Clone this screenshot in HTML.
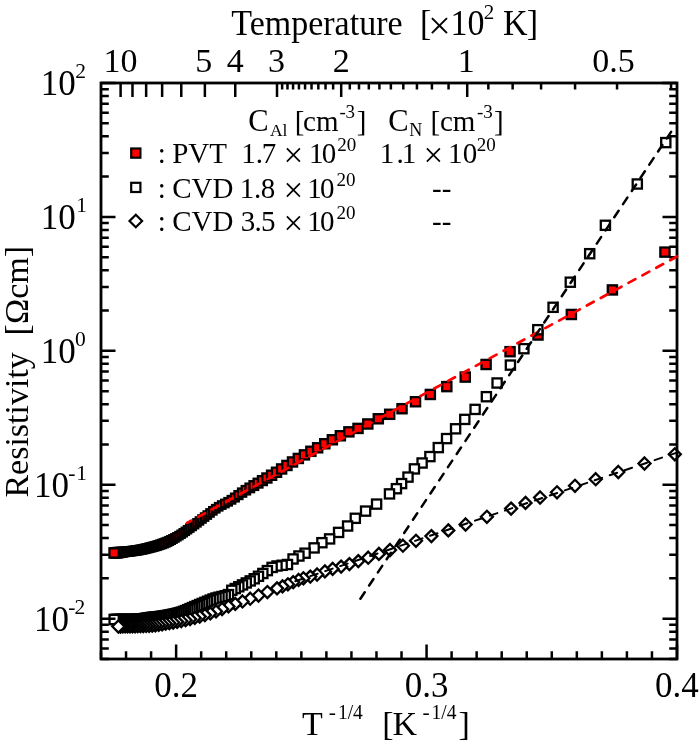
<!DOCTYPE html>
<html><head><meta charset="utf-8"><title>Resistivity vs T^-1/4</title>
<style>html,body{margin:0;padding:0;background:#fff;width:700px;height:744px;overflow:hidden}svg{display:block;filter:blur(0.6px)}</style>
</head><body>
<svg width="700" height="744" viewBox="0 0 700 744">
<rect width="700" height="744" fill="#fff"/>
<g fill="#f00" stroke="#000" stroke-width="2.3"><rect x="110.5" y="548.26" width="9.2" height="9.2"/><rect x="111.55" y="548.17" width="9.2" height="9.2"/><rect x="112.62" y="548.07" width="9.2" height="9.2"/><rect x="113.72" y="547.99" width="9.16" height="9.16"/><rect x="114.89" y="547.97" width="9" height="9"/><rect x="116.07" y="547.94" width="8.84" height="8.84"/><rect x="117.27" y="547.9" width="8.68" height="8.68"/><rect x="118.48" y="547.86" width="8.52" height="8.52"/><rect x="119.71" y="547.82" width="8.36" height="8.36"/><rect x="120.96" y="547.77" width="8.2" height="8.2"/><rect x="122.14" y="547.64" width="8.19" height="8.19"/><rect x="123.33" y="547.51" width="8.19" height="8.19"/><rect x="124.54" y="547.37" width="8.18" height="8.18"/><rect x="125.77" y="547.23" width="8.18" height="8.18"/><rect x="127.02" y="547.08" width="8.17" height="8.17"/><rect x="128.28" y="546.93" width="8.16" height="8.16"/><rect x="129.56" y="546.76" width="8.16" height="8.16"/><rect x="130.86" y="546.59" width="8.15" height="8.15"/><rect x="132.18" y="546.4" width="8.14" height="8.14"/><rect x="133.51" y="546.2" width="8.14" height="8.14"/><rect x="134.87" y="545.98" width="8.13" height="8.13"/><rect x="136.24" y="545.74" width="8.12" height="8.12"/><rect x="137.64" y="545.47" width="8.12" height="8.12"/><rect x="139.06" y="545.18" width="8.11" height="8.11"/><rect x="140.5" y="544.86" width="8.1" height="8.1"/><rect x="141.96" y="544.52" width="8.09" height="8.09"/><rect x="143.44" y="544.16" width="8.09" height="8.09"/><rect x="144.95" y="543.79" width="8.08" height="8.08"/><rect x="146.48" y="543.4" width="8.07" height="8.07"/><rect x="148.04" y="542.99" width="8.06" height="8.06"/><rect x="149.63" y="542.56" width="8.06" height="8.06"/><rect x="151.24" y="542.11" width="8.05" height="8.05"/><rect x="152.87" y="541.63" width="8.04" height="8.04"/><rect x="154.54" y="541.11" width="8.03" height="8.03"/><rect x="156.23" y="540.56" width="8.02" height="8.02"/><rect x="157.96" y="539.96" width="8.02" height="8.02"/><rect x="159.71" y="539.32" width="8.01" height="8.01"/><rect x="161.52" y="538.63" width="7.97" height="7.97"/><rect x="163.39" y="537.9" width="7.86" height="7.86"/><rect x="165.3" y="537.09" width="7.74" height="7.74"/><rect x="167.24" y="536.2" width="7.63" height="7.63"/><rect x="169.22" y="535.25" width="7.51" height="7.51"/><rect x="171.24" y="534.23" width="7.39" height="7.39"/><rect x="173.3" y="533.16" width="7.27" height="7.27"/><rect x="175.37" y="531.98" width="7.21" height="7.21"/><rect x="177.45" y="530.64" width="7.22" height="7.22"/><rect x="179.57" y="529.2" width="7.23" height="7.23"/><rect x="181.73" y="527.68" width="7.24" height="7.24"/><rect x="183.95" y="526.1" width="7.26" height="7.26"/><rect x="186.21" y="524.48" width="7.27" height="7.27"/><rect x="188.52" y="522.8" width="7.28" height="7.28"/><rect x="190.89" y="521.03" width="7.3" height="7.3"/><rect x="193.31" y="519.19" width="7.31" height="7.31"/><rect x="195.78" y="517.29" width="7.32" height="7.32"/><rect x="198.32" y="515.35" width="7.34" height="7.34"/><rect x="200.92" y="513.4" width="7.35" height="7.35"/><rect x="203.59" y="511.37" width="7.37" height="7.37"/><rect x="206.33" y="509.26" width="7.38" height="7.38"/><rect x="209.14" y="507.12" width="7.4" height="7.4"/><rect x="212.02" y="505.03" width="7.42" height="7.42"/><rect x="214.98" y="503.07" width="7.43" height="7.43"/><rect x="218.03" y="501.33" width="7.45" height="7.45"/><rect x="221.16" y="499.74" width="7.47" height="7.47"/><rect x="224.39" y="498.05" width="7.49" height="7.49"/><rect x="227.67" y="496" width="7.58" height="7.58"/><rect x="231.02" y="493.64" width="7.77" height="7.77"/><rect x="234.46" y="491.1" width="7.96" height="7.96"/><rect x="238.02" y="488.52" width="8.17" height="8.17"/><rect x="241.7" y="486.04" width="8.37" height="8.37"/><rect x="245.5" y="483.6" width="8.59" height="8.59"/><rect x="249.49" y="481.2" width="8.72" height="8.72"/><rect x="253.62" y="478.72" width="8.84" height="8.84"/><rect x="257.91" y="476.12" width="8.97" height="8.97"/><rect x="262.36" y="473.44" width="9.11" height="9.11"/><rect x="267.02" y="470.64" width="9.2" height="9.2"/><rect x="271.91" y="467.66" width="9.2" height="9.2"/><rect x="277.01" y="464.35" width="9.2" height="9.2"/><rect x="282.33" y="460.85" width="9.2" height="9.2"/><rect x="287.9" y="457.36" width="9.2" height="9.2"/><rect x="293.73" y="453.85" width="9.2" height="9.2"/><rect x="299.84" y="450.28" width="9.2" height="9.2"/><rect x="306.27" y="446.69" width="9.2" height="9.2"/><rect x="313.04" y="443.19" width="9.2" height="9.2"/><rect x="320.19" y="439.16" width="9.2" height="9.2"/><rect x="327.75" y="435.17" width="9.2" height="9.2"/><rect x="335.77" y="431.17" width="9.2" height="9.2"/><rect x="344.31" y="427.25" width="9.2" height="9.2"/><rect x="353.43" y="423.81" width="9.2" height="9.2"/><rect x="363.2" y="419.37" width="9.2" height="9.2"/><rect x="373.71" y="414.18" width="9.2" height="9.2"/><rect x="385.08" y="409.69" width="9.2" height="9.2"/><rect x="397.42" y="404.11" width="9.2" height="9.2"/><rect x="410.91" y="397.14" width="9.2" height="9.2"/><rect x="425.75" y="389.85" width="9.2" height="9.2"/><rect x="442.21" y="382.01" width="9.2" height="9.2"/><rect x="460.64" y="372.47" width="9.2" height="9.2"/><rect x="481.5" y="359.88" width="9.2" height="9.2"/><rect x="505.44" y="347.08" width="9.2" height="9.2"/><rect x="533.4" y="330.4" width="9.2" height="9.2"/><rect x="566.77" y="309.87" width="9.2" height="9.2"/><rect x="607.8" y="285.32" width="9.2" height="9.2"/><rect x="660.35" y="247.52" width="9.2" height="9.2"/><rect x="109.46" y="548.35" width="9.2" height="9.2"/></g>
<g fill="#fff" stroke="#000" stroke-width="2.3"><rect x="661.2" y="138" width="9.2" height="9.2"/><rect x="632.7" y="179.4" width="9.2" height="9.2"/><rect x="600.8" y="220.7" width="9.2" height="9.2"/><rect x="585.1" y="249.1" width="9.2" height="9.2"/><rect x="565.7" y="277.6" width="9.2" height="9.2"/><rect x="548.5" y="302.7" width="9.2" height="9.2"/><rect x="533.2" y="325.1" width="9.2" height="9.2"/><rect x="519.3" y="344.1" width="9.2" height="9.2"/><rect x="505.8" y="360.5" width="9.2" height="9.2"/><rect x="492.5" y="378.4" width="9.2" height="9.2"/><rect x="481.8" y="392.1" width="9.2" height="9.2"/><rect x="470.5" y="404.8" width="9.2" height="9.2"/><rect x="460.2" y="414.8" width="9.2" height="9.2"/><rect x="451" y="424.2" width="9.2" height="9.2"/><rect x="442" y="434" width="9.2" height="9.2"/><rect x="433.7" y="443" width="9.2" height="9.2"/><rect x="425.3" y="452" width="9.2" height="9.2"/><rect x="417.5" y="458.4" width="9.2" height="9.2"/><rect x="409.8" y="464.3" width="9.2" height="9.2"/><rect x="403.4" y="472.5" width="9.2" height="9.2"/><rect x="397" y="479" width="9.2" height="9.2"/><rect x="391.8" y="484.1" width="9.2" height="9.2"/><rect x="384.9" y="489.3" width="9.2" height="9.2"/><rect x="372" y="499.5" width="9.2" height="9.2"/><rect x="361" y="506.5" width="9.2" height="9.2"/><rect x="350.7" y="513.7" width="9.2" height="9.2"/><rect x="343" y="521.4" width="9.2" height="9.2"/><rect x="334" y="527.8" width="9.2" height="9.2"/><rect x="325" y="534.3" width="9.2" height="9.2"/><rect x="317.3" y="538.1" width="9.2" height="9.2"/><rect x="309.5" y="543.3" width="9.2" height="9.2"/><rect x="300.5" y="548.6" width="9.2" height="9.2"/><rect x="294.33" y="551.4" width="9.2" height="9.2"/><rect x="288.47" y="554.36" width="9.2" height="9.2"/><rect x="282.88" y="559.91" width="9.2" height="9.2"/><rect x="277.53" y="560.68" width="9.2" height="9.2"/><rect x="272.41" y="561.4" width="9.2" height="9.2"/><rect x="267.5" y="562.81" width="9.2" height="9.2"/><rect x="262.78" y="566" width="9.2" height="9.2"/><rect x="258.24" y="568.87" width="9.2" height="9.2"/><rect x="253.87" y="571.69" width="9.2" height="9.2"/><rect x="249.66" y="574.16" width="9.2" height="9.2"/><rect x="245.6" y="576.32" width="9.2" height="9.2"/><rect x="241.67" y="578.34" width="9.2" height="9.2"/><rect x="237.88" y="580.31" width="9.2" height="9.2"/><rect x="234.21" y="582.18" width="9.2" height="9.2"/><rect x="230.65" y="583.98" width="9.2" height="9.2"/><rect x="227.2" y="585.7" width="9.2" height="9.2"/><rect x="223.86" y="590.02" width="9.2" height="9.2"/><rect x="220.62" y="591.13" width="9.2" height="9.2"/><rect x="217.46" y="591.92" width="9.2" height="9.2"/><rect x="214.4" y="592.61" width="9.2" height="9.2"/><rect x="211.42" y="593.39" width="9.2" height="9.2"/><rect x="208.52" y="594.38" width="9.2" height="9.2"/><rect x="205.7" y="595.49" width="9.2" height="9.2"/><rect x="202.95" y="596.64" width="9.2" height="9.2"/><rect x="200.27" y="597.75" width="9.2" height="9.2"/><rect x="197.65" y="598.84" width="9.2" height="9.2"/><rect x="195.1" y="599.92" width="9.2" height="9.2"/><rect x="192.61" y="600.98" width="9.2" height="9.2"/><rect x="190.17" y="601.99" width="9.2" height="9.2"/><rect x="187.8" y="603.01" width="9.2" height="9.2"/><rect x="185.47" y="604.03" width="9.2" height="9.2"/><rect x="183.2" y="605.03" width="9.2" height="9.2"/><rect x="180.98" y="605.97" width="9.2" height="9.2"/><rect x="178.8" y="606.81" width="9.2" height="9.2"/><rect x="176.67" y="607.53" width="9.2" height="9.2"/><rect x="174.58" y="608.12" width="9.2" height="9.2"/><rect x="172.54" y="608.64" width="9.2" height="9.2"/><rect x="170.53" y="609.13" width="9.2" height="9.2"/><rect x="168.57" y="609.57" width="9.2" height="9.2"/><rect x="166.64" y="609.98" width="9.2" height="9.2"/><rect x="164.75" y="610.36" width="9.2" height="9.2"/><rect x="162.9" y="610.71" width="9.2" height="9.2"/><rect x="161.08" y="611.03" width="9.2" height="9.2"/><rect x="159.29" y="611.32" width="9.2" height="9.2"/><rect x="157.54" y="611.59" width="9.2" height="9.2"/><rect x="155.82" y="611.84" width="9.2" height="9.2"/><rect x="154.12" y="612.06" width="9.2" height="9.2"/><rect x="152.46" y="612.25" width="9.2" height="9.2"/><rect x="150.82" y="612.42" width="9.2" height="9.2"/><rect x="149.21" y="612.58" width="9.2" height="9.2"/><rect x="147.63" y="612.74" width="9.2" height="9.2"/><rect x="146.07" y="612.92" width="9.2" height="9.2"/><rect x="144.54" y="613.12" width="9.2" height="9.2"/><rect x="143.04" y="613.36" width="9.2" height="9.2"/><rect x="141.55" y="613.62" width="9.2" height="9.2"/><rect x="140.09" y="613.88" width="9.2" height="9.2"/><rect x="138.66" y="614.12" width="9.2" height="9.2"/><rect x="137.24" y="614.32" width="9.2" height="9.2"/><rect x="135.84" y="614.47" width="9.2" height="9.2"/><rect x="134.47" y="614.56" width="9.2" height="9.2"/><rect x="133.12" y="614.64" width="9.2" height="9.2"/><rect x="131.78" y="614.71" width="9.2" height="9.2"/><rect x="130.47" y="614.78" width="9.2" height="9.2"/><rect x="129.17" y="614.83" width="9.2" height="9.2"/><rect x="127.89" y="614.87" width="9.2" height="9.2"/><rect x="126.63" y="614.89" width="9.2" height="9.2"/><rect x="125.38" y="614.9" width="9.2" height="9.2"/><rect x="124.16" y="614.9" width="9.2" height="9.2"/><rect x="122.95" y="614.9" width="9.2" height="9.2"/><rect x="121.75" y="614.9" width="9.2" height="9.2"/><rect x="120.57" y="614.9" width="9.2" height="9.2"/><rect x="119.41" y="614.9" width="9.2" height="9.2"/><rect x="118.26" y="614.9" width="9.2" height="9.2"/><rect x="117.12" y="614.9" width="9.2" height="9.2"/><rect x="116" y="614.9" width="9.2" height="9.2"/><rect x="114.9" y="614.9" width="9.2" height="9.2"/><rect x="113.8" y="614.9" width="9.2" height="9.2"/><rect x="112.73" y="614.9" width="9.2" height="9.2"/><rect x="111.66" y="614.9" width="9.2" height="9.2"/><rect x="110.6" y="614.9" width="9.2" height="9.2"/><rect x="109.56" y="614.9" width="9.2" height="9.2"/></g>
<g fill="#fff" stroke="#000" stroke-width="2.3"><path d="M674.8 448.3L680.8 454.3L674.8 460.3L668.8 454.3Z"/><path d="M644.5 457.5L650.5 463.5L644.5 469.5L638.5 463.5Z"/><path d="M618.3 466L624.3 472L618.3 478L612.3 472Z"/><path d="M595.7 473.2L601.7 479.2L595.7 485.2L589.7 479.2Z"/><path d="M575 479.8L581 485.8L575 491.8L569 485.8Z"/><path d="M557 486.3L563 492.3L557 498.3L551 492.3Z"/><path d="M540.1 491.5L546.1 497.5L540.1 503.5L534.1 497.5Z"/><path d="M525.5 496.9L531.5 502.9L525.5 508.9L519.5 502.9Z"/><path d="M511.1 502.6L517.1 508.6L511.1 514.6L505.1 508.6Z"/><path d="M486.9 510.8L492.9 516.8L486.9 522.8L480.9 516.8Z"/><path d="M465.6 518.5L471.6 524.5L465.6 530.5L459.6 524.5Z"/><path d="M448.3 524.4L454.3 530.4L448.3 536.4L442.3 530.4Z"/><path d="M431.4 530.1L437.4 536.1L431.4 542.1L425.4 536.1Z"/><path d="M416 534.8L422 540.8L416 546.8L410 540.8Z"/><path d="M402.9 539.7L408.9 545.7L402.9 551.7L396.9 545.7Z"/><path d="M390 544L396 550L390 556L384 550Z"/><path d="M378.9 547.9L384.9 553.9L378.9 559.9L372.9 553.9Z"/><path d="M368.2 551.7L374.2 557.7L368.2 563.7L362.2 557.7Z"/><path d="M358.3 555.1L364.3 561.1L358.3 567.1L352.3 561.1Z"/><path d="M349.4 558.1L355.4 564.1L349.4 570.1L343.4 564.1Z"/><path d="M341.1 560.6L347.1 566.6L341.1 572.6L335.1 566.6Z"/><path d="M332.6 562.9L338.6 568.9L332.6 574.9L326.6 568.9Z"/><path d="M324.9 565.4L330.9 571.4L324.9 577.4L318.9 571.4Z"/><path d="M317.1 568.5L323.1 574.5L317.1 580.5L311.1 574.5Z"/><path d="M310.3 570.6L316.3 576.6L310.3 582.6L304.3 576.6Z"/><path d="M303.4 572.3L309.4 578.3L303.4 584.3L297.4 578.3Z"/><path d="M298.6 573.98L304.6 579.98L298.6 585.98L292.6 579.98Z"/><path d="M293.2 576.22L299.2 582.22L293.2 588.22L287.2 582.22Z"/><path d="M287.9 578.3L293.9 584.3L287.9 590.3L281.9 584.3Z"/><path d="M282.5 580.32L288.5 586.32L282.5 592.32L276.5 586.32Z"/><path d="M277.01 582.36L283.01 588.36L277.01 594.36L271.01 588.36Z"/><path d="M267.38 586.01L273.38 592.01L267.38 598.01L261.38 592.01Z"/><path d="M258.47 589.54L264.47 595.54L258.47 601.54L252.47 595.54Z"/><path d="M250.2 592.73L256.2 598.73L250.2 604.73L244.2 598.73Z"/><path d="M242.48 595.45L248.48 601.45L242.48 607.45L236.48 601.45Z"/><path d="M235.25 597.91L241.25 603.91L235.25 609.91L229.25 603.91Z"/><path d="M228.46 600.39L234.46 606.39L228.46 612.39L222.46 606.39Z"/><path d="M222.06 603.03L228.06 609.03L222.06 615.03L216.06 609.03Z"/><path d="M216.02 605.43L222.02 611.43L216.02 617.43L210.02 611.43Z"/><path d="M210.3 607.4L216.3 613.4L210.3 619.4L204.3 613.4Z"/><path d="M204.87 609.1L210.87 615.1L204.87 621.1L198.87 615.1Z"/><path d="M199.7 610.58L205.7 616.58L199.7 622.58L193.7 616.58Z"/><path d="M194.77 611.9L200.77 617.9L194.77 623.9L188.77 617.9Z"/><path d="M190.07 613.08L196.07 619.08L190.07 625.08L184.07 619.08Z"/><path d="M185.58 614.13L191.58 620.13L185.58 626.13L179.58 620.13Z"/><path d="M181.27 615.05L187.27 621.05L181.27 627.05L175.27 621.05Z"/><path d="M177.14 615.84L183.14 621.84L177.14 627.84L171.14 621.84Z"/><path d="M173.17 616.53L179.17 622.53L173.17 628.53L167.17 622.53Z"/><path d="M169.35 617.14L175.35 623.14L169.35 629.14L163.35 623.14Z"/><path d="M165.68 617.7L171.68 623.7L165.68 629.7L159.68 623.7Z"/><path d="M162.14 618.25L168.14 624.25L162.14 630.25L156.14 624.25Z"/><path d="M158.72 618.81L164.72 624.81L158.72 630.81L152.72 624.81Z"/><path d="M155.42 619.3L161.42 625.3L155.42 631.3L149.42 625.3Z"/><path d="M152.23 619.66L158.23 625.66L152.23 631.66L146.23 625.66Z"/><path d="M149.14 619.84L155.14 625.84L149.14 631.84L143.14 625.84Z"/><path d="M146.15 619.95L152.15 625.95L146.15 631.95L140.15 625.95Z"/><path d="M143.26 620.06L149.26 626.06L143.26 632.06L137.26 626.06Z"/><path d="M140.44 620.15L146.44 626.15L140.44 632.15L134.44 626.15Z"/><path d="M137.72 620.23L143.72 626.23L137.72 632.23L131.72 626.23Z"/><path d="M135.07 620.29L141.07 626.29L135.07 632.29L129.07 626.29Z"/><path d="M132.49 620.35L138.49 626.35L132.49 632.35L126.49 626.35Z"/><path d="M129.98 620.4L135.98 626.4L129.98 632.4L123.98 626.4Z"/><path d="M127.55 620.44L133.55 626.44L127.55 632.44L121.55 626.44Z"/><path d="M125.17 620.47L131.17 626.47L125.17 632.47L119.17 626.47Z"/><path d="M122.86 620.49L128.86 626.49L122.86 632.49L116.86 626.49Z"/><path d="M120.6 620.5L126.6 626.5L120.6 632.5L114.6 626.5Z"/><path d="M118.4 620.5L124.4 626.5L118.4 632.5L112.4 626.5Z"/></g>
<path d="M101 659.0v-7.8M126.04 659.0v-7.8M151.09 659.0v-7.8M176.13 659.0v-14.5M201.17 659.0v-7.8M226.22 659.0v-7.8M251.26 659.0v-7.8M276.3 659.0v-7.8M301.35 659.0v-7.8M326.39 659.0v-7.8M351.43 659.0v-7.8M376.48 659.0v-7.8M401.52 659.0v-7.8M426.57 659.0v-14.5M451.61 659.0v-7.8M476.65 659.0v-7.8M501.7 659.0v-7.8M526.74 659.0v-7.8M551.78 659.0v-7.8M576.83 659.0v-7.8M601.87 659.0v-7.8M626.91 659.0v-7.8M651.96 659.0v-7.8M677 659.0v-14.5M101.0 659h7.8M677.0 659h-7.8M101.0 648.4h7.8M677.0 648.4h-7.8M101.0 639.43h7.8M677.0 639.43h-7.8M101.0 631.66h7.8M677.0 631.66h-7.8M101.0 624.81h7.8M677.0 624.81h-7.8M101.0 618.69h14.5M677.0 618.69h-14.5M101.0 578.37h7.8M677.0 578.37h-7.8M101.0 554.79h7.8M677.0 554.79h-7.8M101.0 538.06h7.8M677.0 538.06h-7.8M101.0 525.08h7.8M677.0 525.08h-7.8M101.0 514.47h7.8M677.0 514.47h-7.8M101.0 505.51h7.8M677.0 505.51h-7.8M101.0 497.74h7.8M677.0 497.74h-7.8M101.0 490.89h7.8M677.0 490.89h-7.8M101.0 484.76h14.5M677.0 484.76h-14.5M101.0 444.45h7.8M677.0 444.45h-7.8M101.0 420.87h7.8M677.0 420.87h-7.8M101.0 404.14h7.8M677.0 404.14h-7.8M101.0 391.16h7.8M677.0 391.16h-7.8M101.0 380.55h7.8M677.0 380.55h-7.8M101.0 371.59h7.8M677.0 371.59h-7.8M101.0 363.82h7.8M677.0 363.82h-7.8M101.0 356.97h7.8M677.0 356.97h-7.8M101.0 350.84h14.5M677.0 350.84h-14.5M101.0 310.53h7.8M677.0 310.53h-7.8M101.0 286.95h7.8M677.0 286.95h-7.8M101.0 270.21h7.8M677.0 270.21h-7.8M101.0 257.24h7.8M677.0 257.24h-7.8M101.0 246.63h7.8M677.0 246.63h-7.8M101.0 237.67h7.8M677.0 237.67h-7.8M101.0 229.9h7.8M677.0 229.9h-7.8M101.0 223.05h7.8M677.0 223.05h-7.8M101.0 216.92h14.5M677.0 216.92h-14.5M101.0 176.61h7.8M677.0 176.61h-7.8M101.0 153.02h7.8M677.0 153.02h-7.8M101.0 136.29h7.8M677.0 136.29h-7.8M101.0 123.31h7.8M677.0 123.31h-7.8M101.0 112.71h7.8M677.0 112.71h-7.8M101.0 103.74h7.8M677.0 103.74h-7.8M101.0 95.98h7.8M677.0 95.98h-7.8M101.0 89.13h7.8M677.0 89.13h-7.8M101.0 83h14.5M677.0 83h-14.5M120.6 83.0v14M132.49 83.0v14M146.15 83.0v14M162.14 83.0v14M181.27 83.0v14M204.87 83.0v14M235.25 83.0v14M277.01 83.0v14M341.2 83.0v14M467.21 83.0v14M282.13 83.0v6.5M287.48 83.0v6.5M293.07 83.0v6.5M298.93 83.0v6.5M305.07 83.0v6.5M311.53 83.0v6.5M318.34 83.0v6.5M325.52 83.0v6.5M333.13 83.0v6.5M349.8 83.0v6.5M358.98 83.0v6.5M368.82 83.0v6.5M379.41 83.0v6.5M390.86 83.0v6.5M403.31 83.0v6.5M416.93 83.0v6.5M431.92 83.0v6.5M448.56 83.0v6.5M488.34 83.0v6.5M512.64 83.0v6.5M541.07 83.0v6.5M575.08 83.0v6.5M617.05 83.0v6.5M671.08 83.0v6.5" stroke="#000" stroke-width="2.5" fill="none"/>
<rect x="101.0" y="83.0" width="576.0" height="576.0" fill="none" stroke="#000" stroke-width="2.8"/>
<g fill="none" stroke-linecap="round">
<path d="M677 256.5L187.1 522.9" stroke="#f00" stroke-width="2.7" stroke-dasharray="7.8 8"/>
<path d="M360.4 598.7L671.1 131.9" stroke="#000" stroke-width="2.5" stroke-dasharray="7.8 8"/>
<path d="M677 452.6L290 583" stroke="#000" stroke-width="2.0" stroke-dasharray="7.8 8"/>
</g>
<g font-family="Liberation Serif, serif" fill="#000">
<text x="231.29" y="34.8" font-size="34" transform="matrix(1 0 0 1.0350 0 -1.218)">Temperature</text>
<text x="420.08" y="34.8" font-size="34" transform="matrix(1 0 0 1.0350 0 -1.218)">[</text>
<text x="428.06" y="38.89" font-size="40.5">×</text>
<text x="450.41" y="34.8" font-size="34" transform="matrix(1 0 0 1.0350 0 -1.218)">10</text>
<text x="483.68" y="18.8" font-size="21">2</text>
<text x="502.91" y="34.8" font-size="34" transform="matrix(1 0 0 1.0350 0 -1.218)">K</text>
<text x="526.78" y="34.8" font-size="34" transform="matrix(1 0 0 1.0350 0 -1.218)">]</text>
<text x="120.6" y="72.4" font-size="34" text-anchor="middle">10</text>
<text x="203.87" y="72.4" font-size="34" text-anchor="middle">5</text>
<text x="235.25" y="72.4" font-size="34" text-anchor="middle">4</text>
<text x="276.51" y="72.4" font-size="34" text-anchor="middle">3</text>
<text x="341.2" y="72.4" font-size="34" text-anchor="middle">2</text>
<text x="466.21" y="72.4" font-size="34" text-anchor="middle">1</text>
<text x="613.55" y="72.4" font-size="34" text-anchor="middle">0.5</text>
<text x="176.13" y="696.8" font-size="35" text-anchor="middle" transform="matrix(1 0 0 1.0350 0 -24.388)">0.2</text>
<text x="426.57" y="696.8" font-size="35" text-anchor="middle" transform="matrix(1 0 0 1.0350 0 -24.388)">0.3</text>
<text x="677" y="696.8" font-size="35" text-anchor="middle" transform="matrix(1 0 0 1.0350 0 -24.388)">0.4</text>
<text x="40.82" y="95.2" font-size="35" transform="matrix(1 0 0 1.0350 0 -3.332)">10</text>
<text x="75.25" y="78" font-size="21.5">2</text>
<text x="40.82" y="229.12" font-size="35" transform="matrix(1 0 0 1.0350 0 -8.019)">10</text>
<text x="76.31" y="211.92" font-size="21.5">1</text>
<text x="40.82" y="363.04" font-size="35" transform="matrix(1 0 0 1.0350 0 -12.706)">10</text>
<text x="75.08" y="345.84" font-size="21.5">0</text>
<text x="34.02" y="496.96" font-size="35" transform="matrix(1 0 0 1.0350 0 -17.394)">10</text>
<text x="68.3" y="479.76" font-size="21.5">-</text>
<text x="76.31" y="479.76" font-size="21.5">1</text>
<text x="34.02" y="630.89" font-size="35" transform="matrix(1 0 0 1.0350 0 -22.081)">10</text>
<text x="68.3" y="613.69" font-size="21.5">-</text>
<text x="74.45" y="613.69" font-size="21.5">2</text>
<text x="301.99" y="735.3" font-size="34">T</text>
<text x="328.8" y="719" font-size="21.5">-</text>
<text x="337.91" y="719" font-size="21.5" textLength="24.9" lengthAdjust="spacingAndGlyphs">1/4</text>
<text x="382.28" y="735.3" font-size="34">[</text>
<text x="392.41" y="735.3" font-size="34">K</text>
<text x="422.6" y="719" font-size="21.5">-</text>
<text x="431.51" y="719" font-size="21.5" textLength="24.9" lengthAdjust="spacingAndGlyphs">1/4</text>
<text x="458.58" y="735.3" font-size="34">]</text>
<g transform="translate(27.5,497.6) rotate(-90)">
<text x="0" y="0" font-size="34">Resistivity</text>
<text x="162.2" y="0" font-size="34">[Ωcm]</text>
</g>
<text x="248.15" y="131.4" font-size="30.5">C</text>
<text x="269.93" y="136.2" font-size="17.5">Al</text>
<text x="294.65" y="131.2" font-size="29">[</text>
<text x="303.1" y="131.2" font-size="29">cm</text>
<text x="339.5" y="118" font-size="19">-</text>
<text x="345.59" y="118" font-size="19">3</text>
<text x="356.86" y="131.2" font-size="29">]</text>
<text x="388.15" y="131.4" font-size="30.5">C</text>
<text x="409.18" y="136.2" font-size="18">N</text>
<text x="430.55" y="131.2" font-size="29">[</text>
<text x="440" y="131.2" font-size="29">cm</text>
<text x="477" y="118" font-size="19">-</text>
<text x="483.19" y="118" font-size="19">3</text>
<text x="494.06" y="131.2" font-size="29">]</text>
<text x="157.81" y="163.4" font-size="29">:</text>
<text x="172.16" y="163.4" font-size="29">PVT</text>
<text x="283.61" y="167.06" font-size="35">×</text>
<text x="157.81" y="198.3" font-size="29">:</text>
<text x="172.21" y="198.3" font-size="29">CVD</text>
<text x="283.61" y="201.96" font-size="35">×</text>
<text x="157.81" y="231.1" font-size="29">:</text>
<text x="172.21" y="231.1" font-size="29">CVD</text>
<text x="283.61" y="234.75" font-size="35">×</text>
<text x="241.34" y="163.4" font-size="29">1</text>
<text x="255.69" y="163.4" font-size="29">.</text>
<text x="261.69" y="163.4" font-size="29">7</text>
<text x="239.64" y="198.3" font-size="29">1</text>
<text x="253.89" y="198.3" font-size="29">.</text>
<text x="260.8" y="198.3" font-size="29">8</text>
<text x="240.81" y="231.1" font-size="29">3</text>
<text x="254.39" y="231.1" font-size="29">.</text>
<text x="261.12" y="231.1" font-size="29">5</text>
<text x="309.09" y="163.4" font-size="29">1</text>
<text x="321.7" y="163.4" font-size="29">0</text>
<text x="337.36" y="151" font-size="19">20</text>
<text x="307.34" y="198.3" font-size="29">1</text>
<text x="320" y="198.3" font-size="29">0</text>
<text x="336.56" y="185.9" font-size="19">20</text>
<text x="307.34" y="231.1" font-size="29">1</text>
<text x="320" y="231.1" font-size="29">0</text>
<text x="336.56" y="218.7" font-size="19">20</text>
<text x="379.64" y="163.4" font-size="29">1</text>
<text x="396.49" y="163.4" font-size="29">.</text>
<text x="401.74" y="163.4" font-size="29">1</text>
<text x="423.61" y="167.06" font-size="35">×</text>
<text x="448.04" y="163.4" font-size="29">1</text>
<text x="462.7" y="163.4" font-size="29">0</text>
<text x="476.86" y="151" font-size="19">20</text>
<text x="432.03" y="198.3" font-size="29">--</text>
<text x="432.03" y="231.1" font-size="29">--</text>
</g>
<rect x="131.2" y="148.5" width="9.2" height="9.2" fill="#f00" stroke="#000" stroke-width="2.2"/>
<rect x="131.2" y="182.8" width="9.2" height="9.2" fill="#fff" stroke="#000" stroke-width="2.2"/>
<path d="M135.8 214.7L142.1 221L135.8 227.3L129.5 221Z" fill="#fff" stroke="#000" stroke-width="2.2"/>
</svg>
</body></html>
